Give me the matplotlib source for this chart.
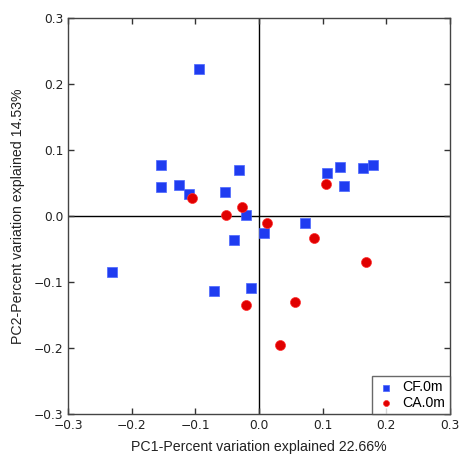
import matplotlib
matplotlib.use("Agg")
import matplotlib.pyplot as plt

# PCoA scores
cf_x = [-0.094, -0.154, -0.154, -0.126, -0.110, -0.053, -0.032, -0.020,
        0.008, -0.039, -0.231, -0.071, -0.013,
        0.107, 0.127, 0.164, 0.180, 0.134, 0.072]
cf_y = [0.222, 0.078, 0.044, 0.047, 0.034, 0.036, 0.070, 0.002,
        -0.025, -0.037, -0.085, -0.114, -0.109,
        0.065, 0.075, 0.072, 0.077, 0.045, -0.010]
ca_x = [-0.105, -0.052, -0.027, 0.013, -0.020, 0.106, 0.086, 0.169, 0.057, 0.033]
ca_y = [0.027, 0.002, 0.014, -0.010, -0.135, 0.049, -0.033, -0.070, -0.130, -0.196]

ticks = [-0.3, -0.2, -0.1, 0.0, 0.1, 0.2, 0.3]

fig = plt.figure(figsize=(4.74, 4.74), dpi=100)
ax = fig.add_axes([0.1435, 0.1266, 0.8055, 0.8354])

# zero cross lines
ax.axhline(0, color='black', lw=1, zorder=1)
ax.axvline(0, color='black', lw=1, zorder=1)

ax.scatter(cf_x, cf_y, marker='s', s=48, color='#1f3cf0', edgecolors='#4a66ff',
           linewidths=0.5, label='CF.0m', zorder=3)
ax.scatter(ca_x, ca_y, marker='o', s=52, color='#e00000', edgecolors='#ff3030',
           linewidths=0.5, label='CA.0m', zorder=3)

ax.set_xlim(-0.3, 0.3)
ax.set_ylim(-0.3, 0.3)
ax.set_xticks(ticks)
ax.set_yticks(ticks)
ax.set_xticklabels([f"{t:.1f}".replace('-', '\u2212') for t in ticks])
ax.set_yticklabels([f"{t:.1f}".replace('-', '\u2212') for t in ticks])
ax.tick_params(direction='in', top=True, right=True, length=4, width=1,
               labelsize=8.8, colors='#333333', labelcolor='#222222')
for sp in ax.spines.values():
    sp.set_color('#444444')
    sp.set_linewidth(1)

ax.set_xlabel("PC1-Percent variation explained 22.66%", fontsize=10.2,
              family='Liberation Sans', color='#222222', labelpad=6)
ax.set_ylabel("PC2-Percent variation explained 14.53%", fontsize=10.2,
              family='Liberation Sans', color='#222222', labelpad=6)

# legend tucked in the bottom-right corner, square frame
leg = ax.legend(loc='lower right', borderaxespad=0, fancybox=False,
                markerscale=0.6, handletextpad=0.5, handlelength=1.4,
                borderpad=0.3, labelspacing=0.1,
                prop={'family': 'Liberation Sans', 'size': 10.2})
leg.get_frame().set_edgecolor('#444444')
leg.get_frame().set_linewidth(1)

fig.savefig("out.png", dpi=100)
